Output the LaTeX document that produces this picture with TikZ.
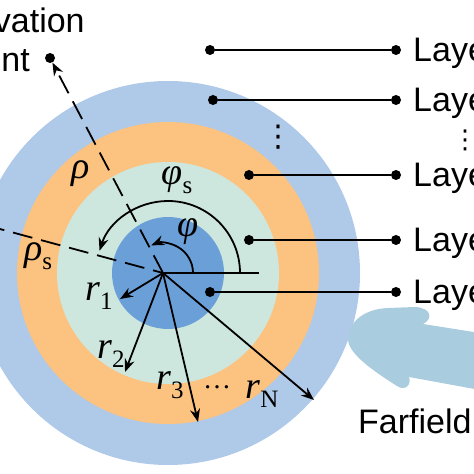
\documentclass[tikz,border=0pt]{standalone}
\usepackage{fontspec}
\setmainfont{Liberation Sans}
\newfontfamily\mathserif{Liberation Serif}
\newfontfamily\dotsfont{DejaVu Sans}
\usetikzlibrary{arrows.meta}
\definecolor{outerblue}{RGB}{175,201,233}
\definecolor{ringorange}{RGB}{252,194,128}
\definecolor{ringteal}{RGB}{205,231,223}
\definecolor{coreblue}{RGB}{107,159,216}
\definecolor{farblue}{RGB}{169,204,223}
\tikzset{
  ldot/.style={circle, fill=black, inner sep=0pt, minimum size=10pt},
  vec/.style={line width=1.8pt, -{Stealth[length=13pt,width=10pt]}},
  dashline/.style={line width=1.8pt, dash pattern=on 20pt off 9pt},
  lab/.style={inner sep=0pt, font=\fontsize{34}{39}\selectfont},
  sym/.style={inner sep=0pt, font=\mathserif\itshape\fontsize{38}{38}\selectfont},
}
\newcommand{\subs}[2]{#1\raisebox{-9pt}{\upshape\fontsize{25}{25}\selectfont #2}}

\begin{document}
\begin{tikzpicture}[x=1pt, y=1pt]
  \useasboundingbox (0,0) rectangle (474,474);
  \coordinate (C) at (168,201);
  \coordinate (O) at (163,201);
  \coordinate (src) at (-15,249);
  \fill[outerblue] (C) circle (192pt);
  \fill[ringorange] (C) circle (151pt);
  \fill[ringteal] (C) circle (111pt);
  \fill[coreblue] (C) circle (56pt);
  \fill[farblue] (480,141) -- (423,150) .. controls (433,155) and (432,166) .. (415,167) -- (388,166)
    .. controls (362,165) and (348,150) .. (348,135) .. controls (348,120) and (375,102) .. (397,88)
    .. controls (404,83) and (412,88) .. (409,97) -- (480,84) -- cycle;

  \foreach \name/\lx/\ly in {top/210/424, outer/213/374, ring3/249/299, ring2/249/234, core/210/182} {
    \node[ldot] (\name L) at (\lx,\ly) {};
    \node[ldot] (\name R) at (396,\ly) {};
    \node[lab, anchor=base west] (\name T) at (413,\ly-12) {Layer};
    \draw[line width=1.8pt] (\name L) -- (\name R);
  }
  \node[font=\dotsfont\fontsize{30}{30}\selectfont, inner sep=0pt] (ringdots) at (278,337) {⋮};
  \node[font=\dotsfont\fontsize{26}{26}\selectfont, inner sep=0pt] (labdots) at (465,334) {⋮};

  \node[lab, align=center, anchor=north] (obs) at (-7,466) {Observation\\point};
  \node[ldot] (obsP) at (50,416) {};
  \draw[dashline, -{Stealth[length=13pt,width=10pt]}] (O) -- (obsP);
  \draw[dashline] (src) -- (O);
  \draw[line width=1.8pt] (O) -- (259,201);
  \draw[vec] ([shift={(0:72pt)}]C) arc[start angle=0, end angle=162, radius=72pt];
  \draw[vec] ([shift={(0:30pt)}]O) arc[start angle=0, end angle=113, radius=30pt];

  \coordinate (e1) at (120,175);
  \coordinate (e2) at (125,102);
  \coordinate (e3) at (198,52);
  \coordinate (eN) at (314,74);
  \draw[vec] (O) -- (e1);
  \draw[vec] (O) -- (e2);
  \draw[vec] (O) -- (e3);
  \draw[vec] (O) -- (eN);

  \node[sym] (phi) at (188,242) {φ};
  \node[sym] (phis) at (177,294) {\subs{φ}{s}};
  \node[sym] (rho) at (81,300) {ρ};
  \node[sym] (rhos) at (38,218) {\subs{ρ}{s}};
  \node[sym] (r1) at (99,178) {\subs{r}{1}};
  \node[sym] (r2) at (111,120) {\subs{r}{2}};
  \node[sym] (r3) at (170,89) {\subs{r}{3}};
  \node[sym, font=\mathserif\fontsize{28}{28}\selectfont] (rdots) at (217,87) {…};
  \node[sym] (rN) at (262,80) {\subs{r}{N}};

  \node[lab, anchor=base west] (far) at (358,40) {Farfield};
\end{tikzpicture}
\end{document}
